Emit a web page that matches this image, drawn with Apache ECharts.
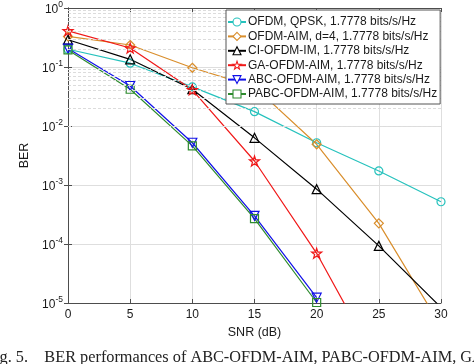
<!DOCTYPE html>
<html><head><meta charset="utf-8">
<script src="https://cdn.jsdelivr.net/npm/echarts@6/dist/echarts.min.js"></script>
<style>html,body{margin:0;padding:0;background:#fff}#c{width:474px;height:364px}</style>
</head><body><div id="c"></div>
<script>
var snr = [0, 5, 10, 15, 20, 25, 30];
var xTicks = [0, 5, 10, 15, 20, 25, 30];
var yTickExponents = [0, -1, -2, -3, -4, -5];
var names = [
  'OFDM, QPSK, 1.7778 bits/s/Hz',
  'OFDM-AIM, d=4, 1.7778 bits/s/Hz',
  'CI-OFDM-IM, 1.7778 bits/s/Hz',
  'GA-OFDM-AIM, 1.7778 bits/s/Hz',
  'ABC-OFDM-AIM, 1.7778 bits/s/Hz',
  'PABC-OFDM-AIM, 1.7778 bits/s/Hz'
];
var berOFDM   = [0.20, 0.116, 0.046, 0.0175, 0.0052, 0.00173, 0.00052];
var berAIM    = [0.33, 0.236, 0.097, 0.046, 0.0049, 0.000224, 0.000004];
var berCI     = [0.29, 0.135, 0.042, 0.0063, 0.00085, 0.000093, 0.0000084];
var berGA     = [0.41, 0.21, 0.041, 0.00255, 0.0000695, 0.00000085];
var berABC    = [0.205, 0.0476, 0.0052, 0.00030, 0.0000123];
var berPABC   = [0.195, 0.042, 0.0046, 0.00027, 0.0000102];

var colors = ['#26c2bd', '#d98e2c', '#000000', '#f01818', '#1010e8', '#2e8b2e'];
var starPath = 'path://M50,0 L61.8,35.1 L97.6,34.5 L69.1,56.2 L79.4,90.5 L50,70 L20.6,90.5 L30.9,56.2 L2.4,34.5 L38.2,35.1 Z';
var symbols = ['circle', 'diamond', 'triangle', starPath, 'triangle', 'rect'];
var symSizes = [8, 9, 9, 10, 9, 8];
var symRot = [0, 0, 0, 0, 180, 0];
var dataSets = [berOFDM, berAIM, berCI, berGA, berABC, berPABC];

var minorVals = [];
[1e-5, 1e-4, 1e-3, 1e-2, 1e-1].forEach(function (d) {
  for (var k = 2; k <= 9; k++) minorVals.push({ yAxis: +(d * k).toPrecision(3) });
});

function pairs(arr) { return arr.map(function (v, i) { return [snr[i], v]; }); }

var series = dataSets.map(function (d, i) {
  return {
    name: names[i], type: 'line', data: pairs(d),
    symbol: symbols[i], symbolSize: symSizes[i], symbolRotate: symRot[i],
    showAllSymbol: true, clip: true, z: 2,
    lineStyle: { color: colors[i], width: 1.2 },
    itemStyle: { color: 'rgba(255,255,255,0)', borderColor: colors[i], borderWidth: 1.2 },
    emphasis: { disabled: true }, animation: false
  };
});
series.push({
  type: 'line', data: [], silent: true, animation: false, z: 1,
  markLine: {
    silent: true, symbol: 'none', animation: false, label: { show: false },
    lineStyle: { color: '#dcdcdc', type: [3, 2], width: 1 },
    data: minorVals
  }
});

var legendData = names.map(function (n, i) {
  return { name: n, itemStyle: { color: '#ffffff', borderColor: colors[i], borderWidth: 1.1 } };
});

var chart = echarts.init(document.getElementById('c'), null, { renderer: 'canvas' });
var axisCol = '#4d4d4d';
chart.setOption({
  animation: false,
  backgroundColor: '#fff',
  grid: { left: 68, right: 33, top: 8, bottom: 61 },
  xAxis: [{
    type: 'value', min: 0, max: 30, interval: 5,
    name: 'SNR (dB)', nameLocation: 'middle', nameGap: 22,
    nameTextStyle: { fontFamily: 'Liberation Sans', fontSize: 12.5, color: '#1a1a1a' },
    axisLine: { lineStyle: { color: axisCol } },
    axisTick: { inside: true, length: 4, lineStyle: { color: axisCol } },
    axisLabel: { fontFamily: 'Liberation Sans', fontSize: 12, color: '#1a1a1a', margin: 6,
      formatter: function (v) { return xTicks.indexOf(v) >= 0 ? String(v) : ''; } },
    splitLine: { show: true, lineStyle: { color: '#dedede' } }
  }, {
    type: 'value', min: 0, max: 30, interval: 5, position: 'top',
    axisLine: { show: true, lineStyle: { color: axisCol } },
    axisTick: { inside: true, length: 4, lineStyle: { color: axisCol } },
    axisLabel: { show: false }, splitLine: { show: false }
  }],
  yAxis: [{
    type: 'log', logBase: 10, min: 1e-5, max: 1,
    name: 'BER', nameLocation: 'middle', nameGap: 30,
    nameTextStyle: { fontFamily: 'Liberation Sans', fontSize: 12.5, color: '#1a1a1a' },
    axisLine: { show: true, lineStyle: { color: axisCol } },
    axisTick: { show: true, inside: true, length: 4, lineStyle: { color: axisCol } },
    axisLabel: {
      margin: 5, color: '#1a1a1a',
      formatter: function (v) {
        var e = Math.round(Math.log10(v));
        if (yTickExponents.indexOf(e) < 0) return '';
        return '{b|10}{s|' + e + '}';
      },
      rich: {
        b: { fontFamily: 'Liberation Sans', fontSize: 12, color: '#1a1a1a', verticalAlign: 'bottom', lineHeight: 16 },
        s: { fontFamily: 'Liberation Sans', fontSize: 8.5, color: '#1a1a1a', verticalAlign: 'top', lineHeight: 16 }
      }
    },
    splitLine: { show: true, lineStyle: { color: '#dedede' } }
  }, {
    type: 'log', logBase: 10, min: 1e-5, max: 1, position: 'right',
    axisLine: { show: true, lineStyle: { color: axisCol } },
    axisTick: { show: true, inside: true, length: 4, lineStyle: { color: axisCol } },
    axisLabel: { show: false }, splitLine: { show: false }
  }],
  legend: {
    orient: 'vertical', left: 226, top: 10, z: 20,
    data: legendData,
    backgroundColor: '#fff', borderColor: '#555', borderWidth: 1, borderRadius: 0,
    padding: [6, 3, 4, 1], itemGap: 2.4, itemWidth: 18, itemHeight: 10,
    textStyle: { fontFamily: 'Liberation Sans', fontSize: 12, color: '#1a1a1a', padding: [0, 0, 0, -3] },
    selectedMode: false
  },
  graphic: [{
    type: 'text', left: -14, top: 350,
    style: { text: 'Fig. 5.    BER performances of ABC-OFDM-AIM, PABC-OFDM-AIM, GA-OFDM-AIM, CI-OFDM-IM, and OFDM.',
      font: '16.3px "Liberation Serif"', fill: '#222' }
  }],
  series: series
});
</script></body></html>
